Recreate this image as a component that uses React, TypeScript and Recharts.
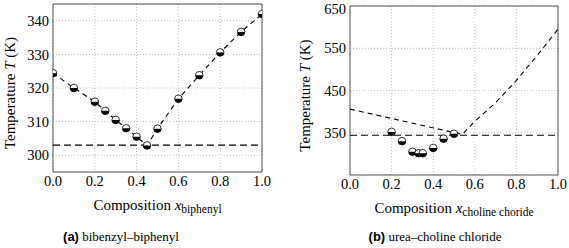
import {
  CartesianGrid,
  ComposedChart,
  Line,
  ReferenceArea,
  ReferenceLine,
  Scatter,
  XAxis,
  YAxis,
} from 'recharts';

const compTicks = [0, 0.2, 0.4, 0.6, 0.8, 1.0];

// (a) bibenzyl–biphenyl
const bbX = [0, 0.1, 0.2, 0.25, 0.3, 0.35, 0.4, 0.45, 0.5, 0.6, 0.7, 0.8, 0.9, 1.0];
const bbT = [324.4, 320.0, 315.9, 313.2, 310.5, 308.0, 305.5, 302.9, 307.9, 316.8, 323.8, 330.6, 336.7, 342.0];
const bbEutectic = 303;
const bbTempTicks = [300, 310, 320, 330, 340];

// (b) urea–choline chloride
const ucX = [0.2, 0.25, 0.3, 0.33, 0.35, 0.4, 0.45, 0.5];
const ucT = [352, 330, 305, 301.5, 301.5, 314, 336, 347.5];
const ucLiqX = [0, 0.54, 0.6, 0.7, 0.8, 0.9, 1.0];
const ucLiqT = [406, 346, 377, 421, 474, 533, 595];
const ucEutectic = 344;
const ucTempTicks = [350, 450, 550, 650];

const SERIF = "Times New Roman, Times, Liberation Serif, DejaVu Serif, serif";
const SANS = "Liberation Sans, Arial, sans-serif";

const toRows = (xs: number[], ts: number[]) => xs.map((x, i) => ({ x, t: ts[i] }));

function Ball(props: any) {
  const { cx, cy } = props;
  if (cx == null || cy == null) return null;
  const r = 3.8;
  return (
    <g>
      <circle cx={cx} cy={cy} r={r} fill="#fff" stroke="#000" strokeWidth={0.8} />
      <path d={`M${cx - r},${cy} A${r},${r} 0 0 0 ${cx + r},${cy} Z`} fill="#000" />
    </g>
  );
}

type PanelProps = {
  width: number;
  left: number;
  top: number;
  bottom: number;
  right: number;
  domain: [number, number];
  yTicks: number[];
  sub: string;
  labelX: number;
  points: { x: number; t: number }[];
  liquidus: { x: number; t: number }[];
  eutectic: number;
};

function Panel(p: PanelProps) {
  const xLabel = (props: any) => {
    const vb = props.viewBox || {};
    return (
      <text
        x={vb.x + vb.width / 2}
        y={vb.y + 38}
        textAnchor="middle"
        fontFamily={SERIF}
        fontSize={15}
        fill="#000"
      >
        Composition <tspan fontStyle="italic">x</tspan>
        <tspan fontSize={11.5} dy={3}>{p.sub}</tspan>
      </text>
    );
  };
  const yLabel = (props: any) => {
    const vb = props.viewBox || {};
    const cx = p.labelX;
    const cy = vb.y + vb.height / 2 + 5;
    return (
      <text
        x={cx}
        y={cy}
        transform={`rotate(-90 ${cx} ${cy})`}
        textAnchor="middle"
        fontFamily={SERIF}
        fontSize={15}
        fill="#000"
      >
        Temperature <tspan fontStyle="italic">T</tspan> (K)
      </text>
    );
  };
  const tick = { fontSize: 14.5, fill: '#000', fontFamily: SERIF };
  return (
    <ComposedChart
      width={p.width}
      height={248}
      margin={{ top: p.top, right: p.right, left: 0, bottom: p.bottom - 30 }}
    >
      <CartesianGrid stroke="#bdbdbd" strokeDasharray="1 2" />
      <XAxis
        type="number"
        dataKey="x"
        domain={[0, 1]}
        ticks={compTicks}
        tickFormatter={(v: number) => v.toFixed(1)}
        allowDataOverflow
        height={30}
        tickLine={false}
        axisLine={false}
        tickSize={0}
        tickMargin={4}
        tick={tick}
        label={{ content: xLabel }}
      />
      <YAxis
        type="number"
        domain={p.domain}
        ticks={p.yTicks}
        allowDataOverflow
        width={p.left}
        tickLine={false}
        axisLine={false}
        tickSize={0}
        tickMargin={4}
        tick={tick}
        label={{ content: yLabel }}
      />
      <ReferenceLine y={p.eutectic} stroke="#000" strokeWidth={1.1} strokeDasharray="7 4" />
      <Line
        data={p.liquidus}
        dataKey="t"
        type="linear"
        stroke="#000"
        strokeWidth={1.1}
        strokeDasharray="5 4"
        dot={false}
        activeDot={false}
        isAnimationActive={false}
      />
      <Scatter data={p.points} dataKey="t" shape={<Ball />} isAnimationActive={false} />
      <ReferenceArea
        x1={0}
        x2={1}
        y1={p.domain[0]}
        y2={p.domain[1]}
        fill="none"
        stroke="#555"
        strokeWidth={1}
      />
    </ComposedChart>
  );
}

export default function App() {
  const bbRows = toRows(bbX, bbT);
  const ucPoints = toRows(ucX, ucT);
  const ucLiq = toRows(ucLiqX, ucLiqT);
  return (
    <div style={{ position: 'absolute', left: 0, top: 0, width: 569, height: 248, background: '#fff' }}>
      <div style={{ position: 'absolute', left: 0, top: 0 }}>
        <Panel
          width={285}
          left={53}
          top={4}
          bottom={76}
          right={23}
          domain={[295, 345]}
          yTicks={bbTempTicks}
          sub="biphenyl"
          labelX={15}
          points={bbRows}
          liquidus={bbRows}
          eutectic={bbEutectic}
        />
      </div>
      <div style={{ position: 'absolute', left: 285, top: 0 }}>
        <Panel
          width={284}
          left={65}
          top={6}
          bottom={73}
          right={11}
          domain={[250, 650]}
          yTicks={ucTempTicks}
          sub="choline choride"
          labelX={25}
          points={ucPoints}
          liquidus={ucLiq}
          eutectic={ucEutectic}
        />
      </div>
      <svg
        width={569}
        height={248}
        style={{ position: 'absolute', left: 0, top: 0, pointerEvents: 'none' }}
      >
        <text x={121} y={241} textAnchor="middle" fill="#000" fontSize={13}>
          <tspan fontFamily={SANS} fontWeight="bold">(a)</tspan>
          <tspan fontFamily={SERIF}> bibenzyl–biphenyl</tspan>
        </text>
        <text x={435} y={241} textAnchor="middle" fill="#000" fontSize={13}>
          <tspan fontFamily={SANS} fontWeight="bold">(b)</tspan>
          <tspan fontFamily={SERIF}> urea–choline chloride</tspan>
        </text>
      </svg>
    </div>
  );
}
